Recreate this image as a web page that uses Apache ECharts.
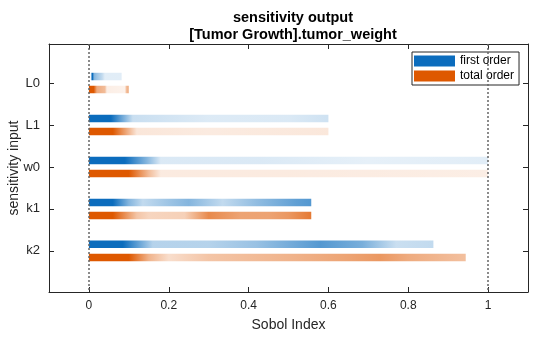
<!DOCTYPE html>
<html><head><meta charset="utf-8">
<script src="https://cdn.jsdelivr.net/npm/echarts@6/dist/echarts.min.js"></script>
<style>html,body{margin:0;padding:0;background:#fff}#c{width:560px;height:337px}</style>
</head><body><div id="c"></div>
<script>
// ---- data ----
var categories = ['L0', 'L1', 'w0', 'k1', 'k2'];
var firstOrderStart = [0.005, 0, 0, 0, 0];
var firstOrderEnd = [0.082, 0.6, 1.0, 0.557, 0.863];
var totalOrderStart = [0, 0, 0, 0, 0];
var totalOrderEnd = [0.1, 0.6, 1.0, 0.557, 0.944];
// density intensity profiles along each bar: [sobol value, intensity 0..1]
var firstOrderProfile = [
  [[0.005, 0.35], [0.009, 1.0], [0.013, 0.5], [0.02, 0.4], [0.033, 0.25], [0.04, 0.12], [0.082, 0.12]],
  [[0, 1], [0.055, 1], [0.11, 0.22], [0.3, 0.14], [0.5, 0.15], [0.6, 0.2]],
  [[0, 1], [0.09, 1], [0.145, 0.5], [0.18, 0.15], [0.43, 0.15], [0.7, 0.1], [1.0, 0.12]],
  [[0, 1], [0.06, 1], [0.1, 0.5], [0.135, 0.25], [0.2, 0.4], [0.25, 0.5], [0.335, 0.25], [0.42, 0.45], [0.52, 0.65], [0.557, 0.7]],
  [[0, 1], [0.085, 1], [0.16, 0.3], [0.3, 0.3], [0.42, 0.42], [0.58, 0.7], [0.685, 0.55], [0.77, 0.22], [0.863, 0.25]]
];
var totalOrderProfile = [
  [[0, 1], [0.012, 1], [0.02, 0.5], [0.04, 0.4], [0.045, 0.1], [0.09, 0.08], [0.095, 0.45], [0.1, 0.45]],
  [[0, 1], [0.06, 1], [0.12, 0.15], [0.3, 0.12], [0.6, 0.14]],
  [[0, 1], [0.1, 1], [0.15, 0.4], [0.18, 0.12], [0.5, 0.12], [1.0, 0.1]],
  [[0, 1], [0.06, 1], [0.12, 0.35], [0.15, 0.25], [0.24, 0.28], [0.3, 0.7], [0.38, 0.55], [0.45, 0.55], [0.5, 0.62], [0.557, 0.8]],
  [[0, 1], [0.1, 1], [0.15, 0.45], [0.2, 0.2], [0.3, 0.35], [0.5, 0.45], [0.65, 0.55], [0.73, 0.62], [0.8, 0.5], [0.944, 0.38]]
];
var xTicks = [0, 0.2, 0.4, 0.6, 0.8, 1];
var refLines = [0, 1];

// ---- chart ----
var BLUE = [11, 108, 189];
var ORANGE = [222, 88, 0];
function rgba(c, a) { return 'rgba(' + c[0] + ',' + c[1] + ',' + c[2] + ',' + a + ')'; }

function makeSeries(name, color, starts, ends, profiles, offset) {
  var data = categories.map(function (c, i) { return [starts[i], ends[i], i + 1, i]; });
  return {
    type: 'custom', name: name,
    itemStyle: { color: rgba(color, 1) },
    data: data,
    encode: { x: [0, 1], y: 2 },
    renderItem: function (params, api) {
      var s = api.value(0), e = api.value(1), y = api.value(2), idx = api.value(3);
      var p0 = api.coord([s, y + offset]);
      var p1 = api.coord([e, y + offset]);
      var h = 7.5;
      var prof = profiles[idx];
      var stops = prof.map(function (p) {
        var t = (p[0] - s) / (e - s);
        t = Math.max(0, Math.min(1, t));
        return { offset: t, color: rgba(color, p[1]) };
      });
      return {
        type: 'rect',
        shape: { x: p0[0], y: p0[1] - h / 2, width: p1[0] - p0[0], height: h },
        style: { fill: { type: 'linear', x: 0, y: 0, x2: 1, y2: 0, colorStops: stops } }
      };
    }
  };
}

var chart = echarts.init(document.getElementById('c'), null, { renderer: 'canvas' });
var axisColor = '#262626';
var font = 'Liberation Sans, Arial, sans-serif';
var series = [
  makeSeries('first order', BLUE, firstOrderStart, firstOrderEnd, firstOrderProfile, -0.155),
  makeSeries('total order', ORANGE, totalOrderStart, totalOrderEnd, totalOrderProfile, 0.155)
];
series[0].markLine = {
  silent: true, symbol: 'none', label: { show: false },
  lineStyle: { type: [2, 2], color: '#666', width: 1.5 },
  data: refLines.map(function (v) { return { xAxis: v }; })
};
chart.setOption({
  animation: false,
  backgroundColor: '#fff',
  textStyle: { fontFamily: font },
  title: {
    text: 'sensitivity output\n[Tumor Growth].tumor_weight',
    left: 288, top: 4, textAlign: 'center',
    textStyle: { fontSize: 14.5, fontWeight: 'bold', color: '#000', lineHeight: 17, fontFamily: font }
  },
  legend: {
    orient: 'vertical', left: 412, top: 52,
    itemWidth: 41, itemHeight: 11, itemGap: 3,
    icon: 'rect',
    padding: [3, 5, 3, 2],
    borderColor: axisColor, borderWidth: 1, backgroundColor: '#fff',
    textStyle: { fontSize: 12, color: '#000', fontFamily: font },
    data: ['first order', 'total order']
  },
  grid: { left: 49, right: 32, top: 44, bottom: 45, show: false, outerBoundsMode: 'none', containLabel: false },
  xAxis: [{
    type: 'value', min: -0.1, max: 1.1,
    name: 'Sobol Index', nameLocation: 'middle', nameGap: 26, nameMoveOverlap: false,
    nameTextStyle: { fontSize: 14, color: axisColor, fontFamily: font },
    axisLine: { show: true, onZero: false, lineStyle: { color: axisColor } },
    axisTick: { show: true, inside: true, length: 5, customValues: xTicks, lineStyle: { color: axisColor } },
    axisLabel: { customValues: xTicks, fontSize: 12, color: axisColor, margin: 8, fontFamily: font,
      formatter: function (v) { return String(+v.toFixed(1)); } },
    splitLine: { show: false }
  }, {
    type: 'value', min: -0.1, max: 1.1, position: 'top',
    axisLine: { show: true, onZero: false, lineStyle: { color: axisColor } },
    axisTick: { show: true, inside: true, length: 5, customValues: xTicks, lineStyle: { color: axisColor } },
    axisLabel: { show: false }, splitLine: { show: false }
  }],
  yAxis: [{
    type: 'value', min: 0.07, max: 5.98, inverse: true,
    name: 'sensitivity input', nameLocation: 'middle', nameGap: 28, nameMoveOverlap: false,
    nameTextStyle: { fontSize: 14, color: axisColor, fontFamily: font },
    axisLine: { show: true, onZero: false, lineStyle: { color: axisColor } },
    axisTick: { show: true, inside: true, length: 5, customValues: [1, 2, 3, 4, 5], lineStyle: { color: axisColor } },
    axisLabel: { customValues: [1, 2, 3, 4, 5], fontSize: 13, color: axisColor, margin: 9, fontFamily: font,
      formatter: function (v) { return categories[Math.round(v) - 1] || ''; } },
    splitLine: { show: false }
  }, {
    type: 'value', min: 0.07, max: 5.98, inverse: true, position: 'right',
    axisLine: { show: true, onZero: false, lineStyle: { color: axisColor } },
    axisTick: { show: true, inside: true, length: 5, customValues: [1, 2, 3, 4, 5], lineStyle: { color: axisColor } },
    axisLabel: { show: false }, splitLine: { show: false }
  }],
  series: series
});
</script></body></html>
